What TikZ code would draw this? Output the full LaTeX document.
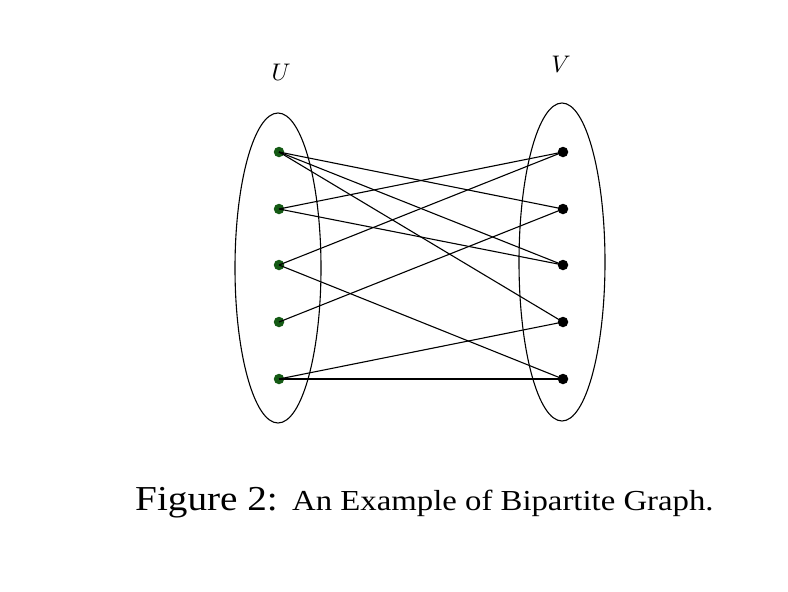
\documentclass[tikz,border=0pt]{standalone}
\usepackage{fontspec}
\setmainfont{Liberation Serif}
\definecolor{dgreen}{RGB}{20,90,20}
\begin{document}
\begin{tikzpicture}[x=1pt,y=-1pt,
  unode/.style={circle,fill=dgreen,inner sep=0pt,minimum size=10.5pt},
  vnode/.style={circle,fill=black,inner sep=0pt,minimum size=10.5pt},
  edge/.style={draw=black,line width=1.1pt},
  setshape/.style={draw=black,line width=1.1pt},
  setlabel/.style={scale=2.4}]
\useasboundingbox (0,0) rectangle (788,592);
\draw[setshape] (278,268) ellipse [x radius=43, y radius=155];
\draw[setshape] (562,262) ellipse [x radius=43, y radius=159];
\node[setlabel] (lu) at (281,72) {$U$};
\node[setlabel] (lv) at (561,64) {$V$};
\foreach \i/\y in {1/152,2/209,3/265,4/322,5/379}{
  \node[unode] (u\i) at (279,\y) {};
  \node[vnode] (v\i) at (563,\y) {};
}
\foreach \a/\b in {1/2,1/3,1/4,2/1,2/3,3/1,3/5,4/2,5/4,5/5}
  \draw[edge] (u\a.center) -- (v\b.center);
\node[anchor=base west,inner sep=0pt,xscale=1.12] (cap1) at (135,510)
  {\fontsize{35}{38}\selectfont Figure 2:};
\node[anchor=base west,inner sep=0pt,xscale=1.13] (cap2) at (292,510)
  {\fontsize{29}{32}\selectfont An Example of Bipartite Graph.};
\end{tikzpicture}
\end{document}
